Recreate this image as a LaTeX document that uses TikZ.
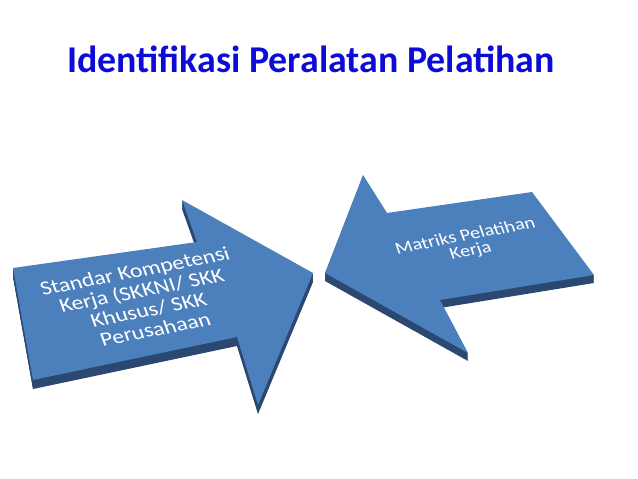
\documentclass[tikz,border=0pt]{standalone}
\usepackage{fontspec}
\setmainfont{Carlito}
\usepackage{tikz}

\definecolor{titleblue}{RGB}{12,12,214}
\definecolor{faceblue}{RGB}{76,128,189}
\definecolor{sideblue}{RGB}{42,72,112}

\begin{document}
\begin{tikzpicture}[x=0.75pt,y=0.75pt,yscale=-1,xscale=1,
  face/.style={fill=faceblue},
  side/.style={fill=sideblue},
  lbl/.style={text=white,align=center,rotate=11,xslant=-0.15,yscale=0.85}]
\useasboundingbox (0,0) rectangle (638,478);
% left arrow, pointing right
\foreach \d in {1,...,9}
  \fill[side,shift={(0,\d)}] (13,268) -- (197,242) -- (182,200) -- (313,273) -- (258,405) -- (237,337) -- (33,380) -- cycle ;
\fill[face] (13,268) -- (197,242) -- (182,200) -- (313,273) -- (258,405) -- (237,337) -- (33,380) -- cycle ;
% right arrow, pointing left
\foreach \d in {1,...,8}
  \fill[side,shift={(0,\d)}] (363,175) -- (387,213) -- (532,192) -- (594,275) -- (440,300) -- (468,353) -- (325,273) -- cycle ;
\fill[face] (363,175) -- (387,213) -- (532,192) -- (594,275) -- (440,300) -- (468,353) -- (325,273) -- cycle ;
\draw (311,73) node [anchor=base][inner sep=0.75pt] [text=titleblue,font=\bfseries\fontsize{28.4}{33}\selectfont] (title) {Identifikasi Peralatan Pelatihan};
\draw (145,300) node [inner sep=0.75pt] [lbl,font=\fontsize{17.6}{18}\selectfont] (kompetensi) {Standar Kompetensi\\Kerja (SKKNI/ SKK\\Khusus/ SKK\\Perusahaan};
\draw (468,244) node [inner sep=0.75pt] [lbl,font=\fontsize{15}{14}\selectfont] (matriks) {Matriks Pelatihan\\Kerja};
\end{tikzpicture}
\end{document}
